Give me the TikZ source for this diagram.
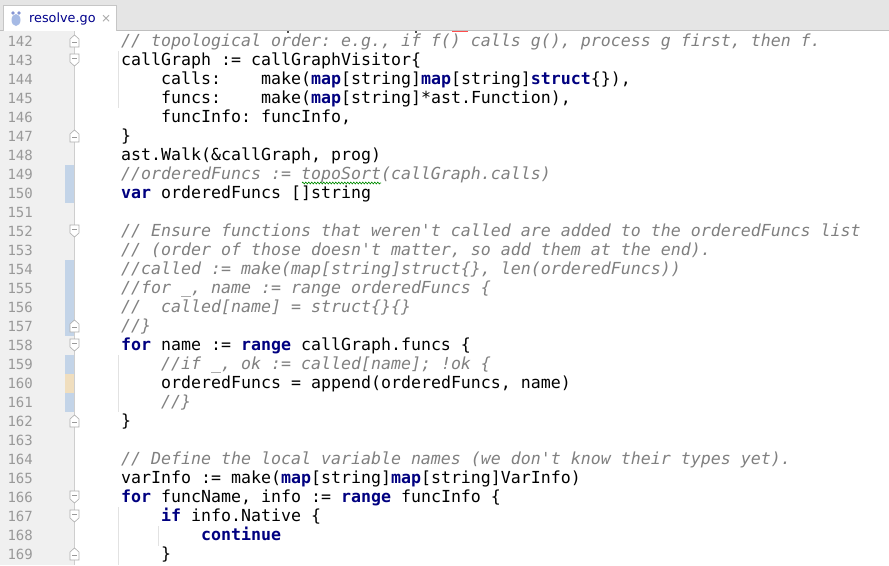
\documentclass[tikz,border=0pt]{standalone}
\usepackage{fontspec}
\usetikzlibrary{decorations.pathmorphing}
\newfontfamily\mono{DejaVu Sans Mono}
\newfontfamily\uisans{DejaVu Sans}
\definecolor{kwc}{HTML}{000080}
\definecolor{cmc}{HTML}{808080}
\definecolor{numc}{HTML}{999999}
\definecolor{gutbg}{HTML}{F0F0F0}
\definecolor{chg}{HTML}{C3D4E8}
\definecolor{chm}{HTML}{F0DEBE}
\definecolor{guide}{HTML}{E2E2E2}
\newcommand{\kw}[1]{{\color{kwc}\bfseries #1}}
\newcommand{\cm}[1]{{\color{cmc}\itshape #1}}
\newcommand{\sx}{\hphantom{0}}
\frenchspacing
\tikzset{
  code/.style={anchor=base west,inner sep=0pt,font=\mono\fontsize{16.6}{19}\selectfont\frenchspacing},
  lnum/.style={anchor=base east,inner sep=0pt,text=numc,font=\mono\fontsize{14}{17}\selectfont},
  foldm/.style={draw=numc!80,fill=white,line width=0.6pt},
}
\newcommand{\ly}[1]{\the\numexpr 41+(#1-142)*19\relax}
\begin{document}
\begin{tikzpicture}[x=1pt,y=-1pt]
\useasboundingbox (0,0) rectangle (889,565);
\fill[white] (0,0) rectangle (889,565);
% tab bar
\fill[gutbg!90!gray] (0,0) rectangle (889,30);
\draw[gray!50] (0,30.5) -- (889,30.5);
\fill[white] (3,5) rectangle (116,31);
\draw[gray!45] (3,31) -- (3,5) -- (116,5) -- (116,31);
\fill[cyan!45!blue!35] (16,20) ellipse (4.5 and 6);
\fill[cyan!30!blue!50] (13,13) circle (1.8) (19,13) circle (1.8);
\node[anchor=base west,inner sep=0pt,text=blue!55!black,font=\uisans\fontsize{12.8}{15}\selectfont] (tab) at (29,22) {resolve.go};
\node[anchor=base west,inner sep=0pt,text=gray!70,font=\uisans\fontsize{12}{14}\selectfont] (close) at (101,22) {×};
% gutter
\fill[gutbg] (0,31) rectangle (74,565);
\draw[guide!80!gray] (74.5,31) -- (74.5,565);
% change bars
\foreach \n in {149,150,154,155,156,157,159,161}{
  \fill[chg] (65,{\ly{\n}-9.5}) rectangle (74,{\ly{\n}+9.5});}
\fill[chm] (65,{\ly{160}-9.5}) rectangle (74,{\ly{160}+9.5});
% line numbers
\foreach \n in {142,...,169}{
  \node[lnum] (n\n) at (33,{\ly{\n}+5}) {\n};}
% fold markers: start (point down), end (point up)
\foreach \n in {143,152,158,166,167}{
  \draw[foldm] (70,{\ly{\n}-6}) -- (79,{\ly{\n}-6}) -- (79,{\ly{\n}+2}) -- (74.5,{\ly{\n}+6}) -- (70,{\ly{\n}+2}) -- cycle;
  \draw[numc] (72,{\ly{\n}-1.5}) -- (77,{\ly{\n}-1.5});}
\foreach \n in {142,147,157,162,169}{
  \draw[foldm] (70,{\ly{\n}+6}) -- (79,{\ly{\n}+6}) -- (79,{\ly{\n}-2}) -- (74.5,{\ly{\n}-6}) -- (70,{\ly{\n}-2}) -- cycle;
  \draw[numc] (72,{\ly{\n}+1.5}) -- (77,{\ly{\n}+1.5});}
% indent guides
\draw[guide] (118.5,51) -- (118.5,108);
\draw[guide] (118.5,355) -- (118.5,412);
\draw[guide] (118.5,507) -- (118.5,565);
\draw[guide] (158.5,526) -- (158.5,546);
% top clipped line remnants
\fill[black!70] (287,31) rectangle (289,33);
\fill[black!70] (415,31) rectangle (417,33);
\draw[red!70,line width=0.6pt] (452,31.5) -- (468,31.5);
% code
\newcommand{\cl}[3]{\node[code] (c#1) at ({121+(#2-1)*40},{\ly{#1}+5.5}) {#3};}
\cl{142}{1}{\cm{// topological order: e.g., if f() calls g(), process g first, then f.}}
\cl{143}{1}{callGraph := callGraphVisitor\{}
\cl{144}{2}{calls:\sx\sx\sx\sx make(\kw{map}[string]\kw{map}[string]\kw{struct}\{\}),}
\cl{145}{2}{funcs:\sx\sx\sx\sx make(\kw{map}[string]*ast.Function),}
\cl{146}{2}{funcInfo: funcInfo,}
\cl{147}{1}{\}}
\cl{148}{1}{ast.Walk(\&callGraph, prog)}
\cl{149}{1}{\cm{//orderedFuncs := topoSort(callGraph.calls)}}
\cl{150}{1}{\kw{var} orderedFuncs []string}
\cl{152}{1}{\cm{// Ensure functions that weren't called are added to the orderedFuncs list}}
\cl{153}{1}{\cm{// (order of those doesn't matter, so add them at the end).}}
\cl{154}{1}{\cm{//called := make(map[string]struct\{\}, len(orderedFuncs))}}
\cl{155}{1}{\cm{//for \_, name := range orderedFuncs \{}}
\cl{156}{1}{\cm{//\sx\sx called[name] = struct\{\}\{\}}}
\cl{157}{1}{\cm{//\}}}
\cl{158}{1}{\kw{for} name := \kw{range} callGraph.funcs \{}
\cl{159}{2}{\cm{//if \_, ok := called[name]; !ok \{}}
\cl{160}{2}{orderedFuncs = append(orderedFuncs, name)}
\cl{161}{2}{\cm{//\}}}
\cl{162}{1}{\}}
\cl{164}{1}{\cm{// Define the local variable names (we don't know their types yet).}}
\cl{165}{1}{varInfo := make(\kw{map}[string]\kw{map}[string]VarInfo)}
\cl{166}{1}{\kw{for} funcName, info := \kw{range} funcInfo \{}
\cl{167}{2}{\kw{if} info.Native \{}
\cl{168}{3}{\kw{continue}}
\cl{169}{2}{\}}
% squiggle under topoSort
\draw[green!55!black,line width=0.6pt,decorate,decoration={zigzag,amplitude=1pt,segment length=3pt}] (302,{\ly{149}+9}) -- (381,{\ly{149}+9});
\end{tikzpicture}
\end{document}
